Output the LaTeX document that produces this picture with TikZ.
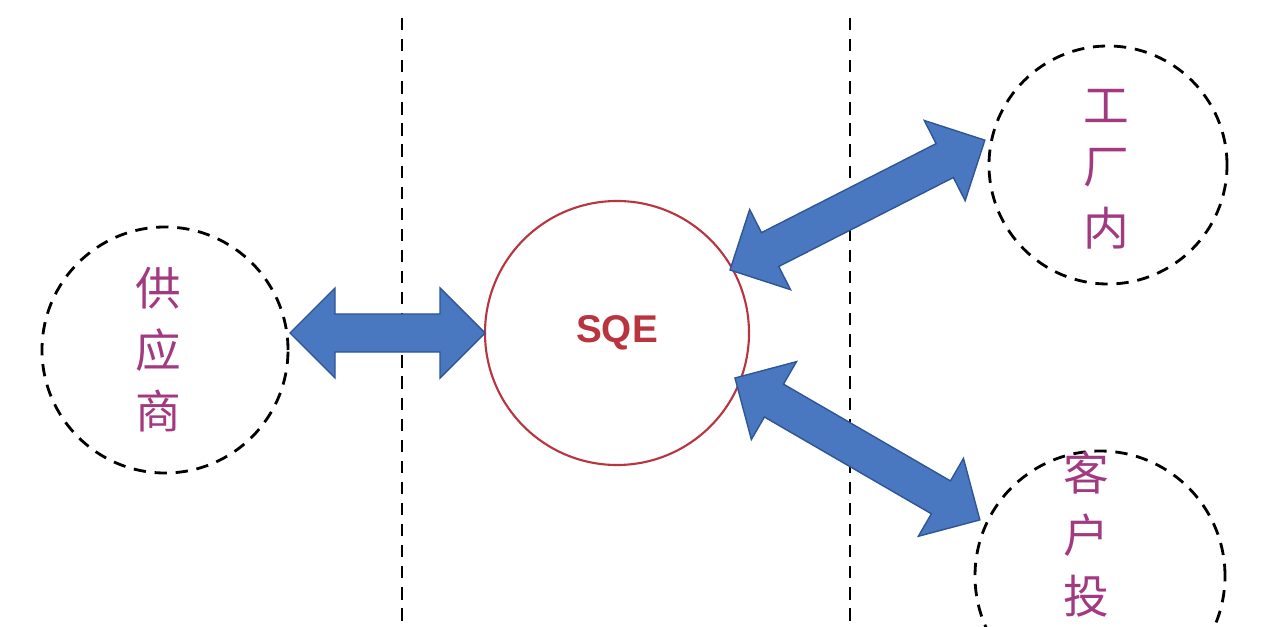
\documentclass[tikz,border=0pt]{standalone}
\usepackage{fontspec}
\setmainfont{Liberation Sans}
\newfontfamily\cjk{Noto Sans CJK SC}
\definecolor{txtpurple}{HTML}{A23A82}
\definecolor{sqered}{HTML}{B8343F}
\definecolor{arrowfill}{HTML}{4A78C0}
\definecolor{arrowdraw}{HTML}{2F5597}
\newcommand\SQEarrow[4]{%
  \begin{scope}[shift={(#1,#2)},rotate=#3]
  \draw[arrowbody] (0,0) -- (45,45) -- (45,19) -- (#4-45,19) -- (#4-45,45) -- (#4,0)
     -- (#4-45,-45) -- (#4-45,-19) -- (45,-19) -- (45,-45) -- cycle;
  \end{scope}}
\begin{document}
\begin{tikzpicture}[x=0.02cm,y=0.02cm,
  dashline/.style={black,line width=1.6pt,dash pattern=on 7pt off 5pt},
  dashcircle/.style={circle,draw=black,line width=1.6pt,dash pattern=on 7pt off 5pt},
  cjklabel/.style={font=\cjk\fontsize{26}{35}\selectfont,text=txtpurple,align=center},
  arrowbody/.style={fill=arrowfill,draw=arrowdraw,line width=0.8pt}]
\useasboundingbox[fill=white] (0,0) rectangle (1274,626);
\clip (0,0) rectangle (1274,626);
\draw[dashline] (402,608) -- (402,0);
\draw[dashline] (850,608) -- (850,0);
\node[dashcircle,minimum size=246*0.02cm] (sup) at (165,276) {};
\node[cjklabel] at (158,276) {供\\应\\商};
\node[dashcircle,minimum size=238*0.02cm] (fac) at (1108,461) {};
\node[cjklabel] at (1106,457) {工\\厂\\内};
\node[dashcircle,minimum size=250*0.02cm] (cus) at (1100,50) {};
\node[cjklabel,anchor=north] at (1086,180) {客\\户\\投};
\node[circle,draw=sqered,line width=1.2pt,minimum size=264*0.02cm] (sqe) at (617,293) {};
\node[text=sqered,font=\bfseries\fontsize{22}{26}\selectfont] at (sqe) {SQE};
\SQEarrow{290}{293}{0}{195}
\SQEarrow{730}{356}{27}{286}
\SQEarrow{735}{248}{-30.1}{283}
\end{tikzpicture}
\end{document}
